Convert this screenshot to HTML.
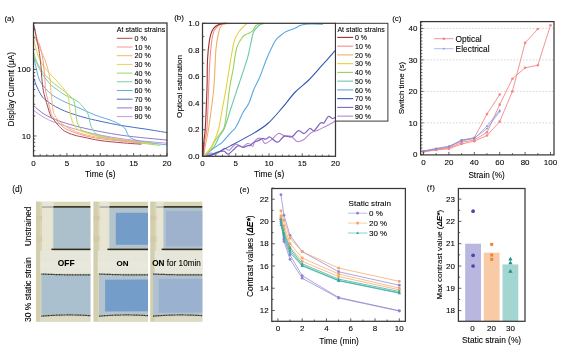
<!DOCTYPE html>
<html><head><meta charset="utf-8"><style>
html,body{margin:0;padding:0;background:#fff;}
svg{display:block;filter:blur(0.3px);font-family:'Liberation Sans', sans-serif;}
text{stroke:#000;stroke-width:0.08px;}
</style></head><body>
<svg width="575" height="353" viewBox="0 0 575 353">
<rect width="575" height="353" fill="#fff"/>
<text x="9.3" y="21.1" font-size="8.0" text-anchor="middle" font-weight="normal" fill="#000" >(a)</text>
<text x="0" y="0" font-size="8.2" text-anchor="middle" fill="#000" transform="translate(14.3,89.3) rotate(-90)">Display Current (μA)</text>
<text x="100.25" y="177.2" font-size="8.4" text-anchor="middle" font-weight="normal" fill="#000" >Time (s)</text>
<g fill="none" stroke-width="1.0" stroke-linejoin="round" stroke-linecap="round">
<path d="M34,110.6 C35.67,111.73 40.45,115.42 44,117.4 C47.55,119.38 48.63,120.15 55.3,122.5 C61.97,124.85 72.88,128.78 84,131.5 C95.12,134.22 108.17,136.85 122,138.8 C135.83,140.75 159.5,142.47 167,143.2" stroke="#c49ad8"/>
<path d="M34,106 C35.67,107.33 39.88,111.53 44,114 C48.12,116.47 52.03,118.45 58.7,120.8 C65.37,123.15 73.45,125.68 84,128.1 C94.55,130.52 108.17,133.3 122,135.3 C135.83,137.3 159.5,139.3 167,140.1" stroke="#8a7cc8"/>
<path d="M34,79 C34.5,80.33 35.72,84.17 37,87 C38.28,89.83 40.27,93.83 41.7,96 C43.13,98.17 43.88,98.58 45.6,100 C47.32,101.42 49.63,103.03 52,104.5 C54.37,105.97 56.8,107.38 59.8,108.8 C62.8,110.22 65.97,111.57 70,113 C74.03,114.43 79,116.03 84,117.4 C89,118.77 93.67,119.83 100,121.2 C106.33,122.57 114.5,124.3 122,125.6 C129.5,126.9 137.5,127.83 145,129 C152.5,130.17 163.33,132 167,132.6" stroke="#4a6cc0"/>
<path d="M34,58 C34.43,60 35.7,66.33 36.6,70 C37.5,73.67 38,77 39.4,80 C40.8,83 42.73,85.42 45,88 C47.27,90.58 49.67,93.17 53,95.5 C56.33,97.83 61,100.08 65,102 C69,103.92 72,104.83 77,107 C82,109.17 89.5,112.83 95,115 C100.5,117.17 106,118.5 110,120 C114,121.5 116.92,122.92 119,124 C121.08,125.08 121.43,125.67 122.5,126.5 C123.57,127.33 124.45,127.55 125.4,129 C126.35,130.45 126.88,133.5 128.2,135.2 C129.52,136.9 130.55,138.07 133.3,139.2 C136.05,140.33 139.08,141.05 144.7,142 C150.32,142.95 163.28,144.42 167,144.9" stroke="#62ace4"/>
<path d="M34,57 C34.67,58.5 36.63,63.2 38,66 C39.37,68.8 40.75,71.47 42.2,73.8 C43.65,76.13 45.23,78.13 46.7,80 C48.17,81.87 49.15,83.33 51,85 C52.85,86.67 55.47,88.33 57.8,90 C60.13,91.67 61.8,93.17 65,95 C68.2,96.83 73.83,98.83 77,101 C80.17,103.17 82.25,106 84,108 C85.75,110 86.67,111.5 87.5,113 C88.33,114.5 88.58,115.35 89,117 C89.42,118.65 89.35,120.75 90,122.9 C90.65,125.05 91.58,127.9 92.9,129.9 C94.22,131.9 95.05,133.58 97.9,134.9 C100.75,136.22 105.98,136.98 110,137.8 C114.02,138.62 116.17,139.02 122,139.8 C127.83,140.58 139.17,141.83 145,142.5 C150.83,143.17 155,143.58 157,143.8" stroke="#7ccea8"/>
<path d="M34,53 C34.33,54.17 34.67,57 36,60 C37.33,63 39.65,67.67 42,71 C44.35,74.33 47.77,77.67 50.1,80 C52.43,82.33 53.9,83.33 56,85 C58.1,86.67 60.37,88.17 62.7,90 C65.03,91.83 68.18,94.33 70,96 C71.82,97.67 72.77,98.33 73.6,100 C74.43,101.67 74.63,104 75,106 C75.37,108 75.48,109.45 75.8,112 C76.12,114.55 76.37,118.97 76.9,121.3 C77.43,123.63 78.25,124.58 79,126 C79.75,127.42 80.23,128.8 81.4,129.8 C82.57,130.8 82.9,130.87 86,132 C89.1,133.13 94,135.18 100,136.6 C106,138.02 114.5,139.33 122,140.5 C129.5,141.67 138.67,142.78 145,143.6 C151.33,144.42 157.5,145.1 160,145.4" stroke="#9cd470"/>
<path d="M34,40.3 C34.23,41.25 34.7,43.38 35.4,46 C36.1,48.62 37.45,53.72 38.2,56 C38.95,58.28 38.93,57.87 39.9,59.7 C40.87,61.53 42.35,64.68 44,67 C45.65,69.32 47.8,71.43 49.8,73.6 C51.8,75.77 53.52,77.27 56,80 C58.48,82.73 62.78,87.5 64.7,90 C66.62,92.5 66.82,93.33 67.5,95 C68.18,96.67 68.47,98.17 68.8,100 C69.13,101.83 69.25,103.83 69.5,106 C69.75,108.17 69.83,110.45 70.3,113 C70.77,115.55 71.2,118.68 72.3,121.3 C73.4,123.92 74.95,126.9 76.9,128.7 C78.85,130.5 80.15,130.8 84,132.1 C87.85,133.4 93.67,135.18 100,136.5 C106.33,137.82 114.5,138.95 122,140 C129.5,141.05 140,142.23 145,142.8 C150,143.37 150.83,143.3 152,143.4" stroke="#e4d450"/>
<path d="M34,36 C34.67,37.33 36.75,41.33 38,44 C39.25,46.67 40.35,49.38 41.5,52 C42.65,54.62 43.9,57.03 44.9,59.7 C45.9,62.37 46.68,65.03 47.5,68 C48.32,70.97 49.25,73.83 49.8,77.5 C50.35,81.17 50.52,86.92 50.8,90 C51.08,93.08 51.13,92.67 51.5,96 C51.87,99.33 52.37,106.67 53,110 C53.63,113.33 54.13,114 55.3,116 C56.47,118 57.55,119.83 60,122 C62.45,124.17 66,126.95 70,129 C74,131.05 79,132.87 84,134.3 C89,135.73 93.67,136.6 100,137.6 C106.33,138.6 115.17,139.57 122,140.3 C128.83,141.03 137.83,141.72 141,142" stroke="#f0b870"/>
<path d="M34,26 C34.57,28.33 36.42,36.7 37.4,40 C38.38,43.3 38.98,42.52 39.9,45.8 C40.82,49.08 42.08,54.33 42.9,59.7 C43.72,65.07 44.37,72.95 44.8,78 C45.23,83.05 45.17,87 45.5,90 C45.83,93 46.02,92.67 46.8,96 C47.58,99.33 49.27,106.67 50.2,110 C51.13,113.33 51.17,114.12 52.4,116 C53.63,117.88 55.33,119.13 57.6,121.3 C59.87,123.47 61.6,126.63 66,129 C70.4,131.37 78.33,133.9 84,135.5 C89.67,137.1 93.67,137.65 100,138.6 C106.33,139.55 115.17,140.5 122,141.2 C128.83,141.9 137.83,142.53 141,142.8" stroke="#f49a9a"/>
<path d="M34,25.2 C34.47,27.67 35.98,35.9 36.8,40 C37.62,44.1 38.22,45.53 38.9,49.8 C39.58,54.07 40.42,60.9 40.9,65.6 C41.38,70.3 41.42,73.93 41.8,78 C42.18,82.07 42.73,87 43.2,90 C43.67,93 43.93,93.5 44.6,96 C45.27,98.5 46.18,101.67 47.2,105 C48.22,108.33 49.53,113.47 50.7,116 C51.87,118.53 52.98,118.7 54.2,120.2 C55.42,121.7 56.3,123.2 58,125 C59.7,126.8 61.73,129.33 64.4,131 C67.07,132.67 70.73,133.95 74,135 C77.27,136.05 79.67,136.38 84,137.3 C88.33,138.22 93.67,139.58 100,140.5 C106.33,141.42 115.17,142.18 122,142.8 C128.83,143.42 137.83,143.97 141,144.2" stroke="#a84a4a"/>
</g>
<rect x="33.5" y="23" width="133.5" height="133" fill="none" stroke="#383838" stroke-width="1.25"/>
<path d="M33.5,156 V153 M40.17,156 V154.2 M46.85,156 V154.2 M53.52,156 V154.2 M60.2,156 V154.2 M66.88,156 V153 M73.55,156 V154.2 M80.22,156 V154.2 M86.9,156 V154.2 M93.58,156 V154.2 M100.25,156 V153 M106.92,156 V154.2 M113.6,156 V154.2 M120.28,156 V154.2 M126.95,156 V154.2 M133.62,156 V153 M140.3,156 V154.2 M146.97,156 V154.2 M153.65,156 V154.2 M160.32,156 V154.2 M167,156 V153 M33.5,156 H35.3 M33.5,150.73 H35.3 M33.5,146.28 H35.3 M33.5,142.43 H35.3 M33.5,139.02 H35.3 M33.5,135.98 H36.5 M33.5,115.96 H35.3 M33.5,104.25 H35.3 M33.5,95.94 H35.3 M33.5,89.5 H35.3 M33.5,84.23 H35.3 M33.5,79.78 H35.3 M33.5,75.93 H35.3 M33.5,72.52 H35.3 M33.5,69.48 H36.5 M33.5,49.46 H35.3 M33.5,37.75 H35.3 M33.5,29.44 H35.3 M33.5,23 H35.3" stroke="#383838" stroke-width="0.8" fill="none"/>
<text x="33.5" y="165.8" font-size="8.0" text-anchor="middle" font-weight="normal" fill="#000" >0</text>
<text x="66.88" y="165.8" font-size="8.0" text-anchor="middle" font-weight="normal" fill="#000" >5</text>
<text x="100.25" y="165.8" font-size="8.0" text-anchor="middle" font-weight="normal" fill="#000" >10</text>
<text x="133.62" y="165.8" font-size="8.0" text-anchor="middle" font-weight="normal" fill="#000" >15</text>
<text x="167" y="165.8" font-size="8.0" text-anchor="middle" font-weight="normal" fill="#000" >20</text>
<text x="30.6" y="72.18" font-size="8.0" text-anchor="end" font-weight="normal" fill="#000" >100</text>
<text x="30.6" y="138.68" font-size="8.0" text-anchor="end" font-weight="normal" fill="#000" >10</text>
<text x="116.8" y="32.4" font-size="7.15" text-anchor="start" font-weight="normal" fill="#000" >At static strains</text>
<path d="M116.8,38.3 H132.5" stroke="#a84a4a" stroke-width="1"/>
<text x="134.6" y="40.9" font-size="7.15" text-anchor="start" font-weight="normal" fill="#000" >0 %</text>
<path d="M116.8,47 H132.5" stroke="#f49a9a" stroke-width="1"/>
<text x="134.6" y="49.6" font-size="7.15" text-anchor="start" font-weight="normal" fill="#000" >10 %</text>
<path d="M116.8,55.7 H132.5" stroke="#f0b870" stroke-width="1"/>
<text x="134.6" y="58.3" font-size="7.15" text-anchor="start" font-weight="normal" fill="#000" >20 %</text>
<path d="M116.8,64.4 H132.5" stroke="#e4d450" stroke-width="1"/>
<text x="134.6" y="67" font-size="7.15" text-anchor="start" font-weight="normal" fill="#000" >30 %</text>
<path d="M116.8,73.1 H132.5" stroke="#9cd470" stroke-width="1"/>
<text x="134.6" y="75.7" font-size="7.15" text-anchor="start" font-weight="normal" fill="#000" >40 %</text>
<path d="M116.8,81.8 H132.5" stroke="#7ccea8" stroke-width="1"/>
<text x="134.6" y="84.4" font-size="7.15" text-anchor="start" font-weight="normal" fill="#000" >50 %</text>
<path d="M116.8,90.5 H132.5" stroke="#62ace4" stroke-width="1"/>
<text x="134.6" y="93.1" font-size="7.15" text-anchor="start" font-weight="normal" fill="#000" >60 %</text>
<path d="M116.8,99.2 H132.5" stroke="#4a6cc0" stroke-width="1"/>
<text x="134.6" y="101.8" font-size="7.15" text-anchor="start" font-weight="normal" fill="#000" >70 %</text>
<path d="M116.8,107.9 H132.5" stroke="#8a7cc8" stroke-width="1"/>
<text x="134.6" y="110.5" font-size="7.15" text-anchor="start" font-weight="normal" fill="#000" >80 %</text>
<path d="M116.8,116.6 H132.5" stroke="#c49ad8" stroke-width="1"/>
<text x="134.6" y="119.2" font-size="7.15" text-anchor="start" font-weight="normal" fill="#000" >90 %</text>
<text x="179.1" y="19.9" font-size="8.0" text-anchor="middle" font-weight="normal" fill="#000" >(b)</text>
<text x="0" y="0" font-size="8.1" text-anchor="middle" fill="#000" transform="translate(182.2,86.4) rotate(-90)">Optical saturation</text>
<text x="269.1" y="177" font-size="8.4" text-anchor="middle" font-weight="normal" fill="#000" >Time (s)</text>
<g fill="none" stroke-width="1.1" stroke-linejoin="round" stroke-linecap="round">
<path d="M205,156 C205.92,155.5 208.65,153.33 210.5,153 C212.35,152.67 213.77,154.77 216.1,154 C218.43,153.23 222.32,149.03 224.5,148.4 C226.68,147.77 227.33,150.9 229.2,150.2 C231.07,149.5 233.52,144.73 235.7,144.2 C237.88,143.67 240.43,147.08 242.3,147 C244.17,146.92 245.62,144.18 246.9,143.7 C248.18,143.22 249.02,143.68 250,144.1 C250.98,144.52 251.85,146.9 252.8,146.2 C253.75,145.5 254.28,141.18 255.7,139.9 C257.12,138.62 259.77,137.92 261.3,138.5 C262.83,139.08 263.25,143.17 264.9,143.4 C266.55,143.63 268.97,141.55 271.2,139.9 C273.43,138.25 276.17,134.22 278.3,133.5 C280.43,132.78 281.88,135.13 284,135.6 C286.12,136.07 288.88,135.35 291,136.3 C293.12,137.25 295.22,140.47 296.7,141.3 C298.18,142.13 298.65,141.65 299.9,141.3 C301.15,140.95 302.32,140.62 304.2,139.2 C306.08,137.78 308.85,134.33 311.2,132.8 C313.55,131.27 315.93,131.07 318.3,130 C320.67,128.93 323.27,127.47 325.4,126.4 C327.53,125.33 329.42,124.55 331.1,123.6 C332.78,122.65 334.77,121.18 335.5,120.7" stroke="#b884d0"/>
<path d="M205,156 C205.6,155.92 206.92,156 208.6,155.5 C210.28,155 212.6,153.72 215.1,153 C217.6,152.28 221.42,151.03 223.6,151.2 C225.78,151.37 226.33,154.47 228.2,154 C230.07,153.53 233.08,149.8 234.8,148.4 C236.52,147 237.1,145.77 238.5,145.6 C239.9,145.43 241.63,147.4 243.2,147.4 C244.77,147.4 246.77,145.92 247.9,145.6 C249.03,145.28 248.95,146.1 250,145.5 C251.05,144.9 252.78,142.82 254.2,142 C255.62,141.18 257.08,141.18 258.5,140.6 C259.92,140.02 261.52,138.73 262.7,138.5 C263.88,138.27 264.42,139.45 265.6,139.2 C266.78,138.95 268.5,136.88 269.8,137 C271.1,137.12 271.98,139.07 273.4,139.9 C274.82,140.73 276.53,142.6 278.3,142 C280.07,141.4 281.88,137.13 284,136.3 C286.12,135.47 289.42,137.12 291,137 C292.58,136.88 292.25,136.65 293.5,135.6 C294.75,134.55 296.72,131.05 298.5,130.7 C300.28,130.35 302.32,133.87 304.2,133.5 C306.08,133.13 308.15,128.97 309.8,128.5 C311.45,128.03 312.32,131.63 314.1,130.7 C315.88,129.77 318.85,124.2 320.5,122.9 C322.15,121.6 322.72,123.97 324,122.9 C325.28,121.83 326.78,117.22 328.2,116.5 C329.62,115.78 331.28,118.48 332.5,118.6 C333.72,118.72 335,117.43 335.5,117.2" stroke="#7c68c0" stroke-width="1.25"/>
<path d="M205,156 C206.22,155.82 207.97,156.63 212.3,154.9 C216.63,153.17 223.88,149.35 231,145.6 C238.12,141.85 248.77,136.17 255,132.4 C261.23,128.63 263.92,127.03 268.4,123 C272.88,118.97 277.42,113.37 281.9,108.2 C286.38,103.03 290.82,96.7 295.3,92 C299.78,87.3 304.32,84.47 308.8,80 C313.28,75.53 317.78,70.13 322.2,65.2 C326.62,60.27 333.12,52.87 335.3,50.4" stroke="#3058b0"/>
<path d="M205,155 C206.22,154.05 209.98,151.03 212.3,149.3 C214.62,147.57 217.33,145.68 218.9,144.6 C220.47,143.52 219.83,144.67 221.7,142.8 C223.57,140.93 227.83,135.87 230.1,133.4 C232.37,130.93 233.82,130.07 235.3,128 C236.78,125.93 237.72,123.6 239,121 C240.28,118.4 241.33,115.4 243,112.4 C244.67,109.4 247.23,106.73 249,103 C250.77,99.27 251.77,94.42 253.6,90 C255.43,85.58 257.77,81.83 260,76.5 C262.23,71.17 264.45,63.95 267,58 C269.55,52.05 273.13,44.47 275.3,40.8 C277.47,37.13 278.3,37.48 280,36 C281.7,34.52 283.83,32.9 285.5,31.9 C287.17,30.9 288.3,30.65 290,30 C291.7,29.35 294.03,28.75 295.7,28 C297.37,27.25 298.3,26.13 300,25.5 C301.7,24.87 303.73,24.45 305.9,24.2 C308.07,23.95 310.23,24 313,24 C315.77,24 320.92,24.17 322.5,24.2" stroke="#58a8e0"/>
<path d="M204.5,156 C205.08,155.33 206.43,153.5 208,152 C209.57,150.5 212.07,149.5 213.9,147 C215.73,144.5 217.23,140.17 219,137 C220.77,133.83 222.5,132.83 224.5,128 C226.5,123.17 228.82,114.67 231,108 C233.18,101.33 235.77,93.5 237.6,88 C239.43,82.5 240.33,80.05 242,75 C243.67,69.95 246.18,62.7 247.6,57.7 C249.02,52.7 249.5,49.3 250.5,45 C251.5,40.7 252.1,35.23 253.6,31.9 C255.1,28.57 257.77,26.4 259.5,25 C261.23,23.6 263.25,23.75 264,23.5" stroke="#6cc8a8"/>
<path d="M205,155.5 C206.07,154.15 209.72,149.92 211.4,147.4 C213.08,144.88 213.38,143.05 215.1,140.4 C216.82,137.75 220.22,133.57 221.7,131.5 C223.18,129.43 223.25,130.58 224,128 C224.75,125.42 225.27,122.67 226.2,116 C227.13,109.33 228.47,95.67 229.6,88 C230.73,80.33 231.82,76.7 233,70 C234.18,63.3 235.08,53.32 236.7,47.8 C238.32,42.28 240.88,39.22 242.7,36.9 C244.52,34.58 245.95,34.9 247.6,33.9 C249.25,32.9 251.27,32.22 252.6,30.9 C253.93,29.58 254.37,27.23 255.6,26 C256.83,24.77 258.77,23.95 260,23.5 C261.23,23.05 262.5,23.33 263,23.3" stroke="#98d058"/>
<path d="M205,155.5 C205.92,154.32 208.82,151.15 210.5,148.4 C212.18,145.65 213.7,142.4 215.1,139 C216.5,135.6 217.67,133.17 218.9,128 C220.13,122.83 221.28,114.67 222.5,108 C223.72,101.33 225.12,94.33 226.2,88 C227.28,81.67 228.03,76 229,70 C229.97,64 231.05,57.03 232,52 C232.95,46.97 233.45,43.3 234.7,39.8 C235.95,36.3 237.52,33.72 239.5,31 C241.48,28.28 245.42,24.75 246.6,23.5" stroke="#e6d040"/>
<path d="M203.5,156 C203.92,153.67 205.13,146.67 206,142 C206.87,137.33 207.4,137 208.7,128 C210,119 212.6,101.03 213.8,88 C215,74.97 215.07,59.15 215.9,49.8 C216.73,40.45 217.82,36.03 218.8,31.9 C219.78,27.77 220.6,26.35 221.8,25 C223,23.65 224.02,24.05 226,23.8 C227.98,23.55 232.42,23.55 233.7,23.5" stroke="#f0b060"/>
<path d="M203.5,156 C203.75,153.33 204.42,144.67 205,140 C205.58,135.33 206.38,136.67 207,128 C207.62,119.33 208.22,99.33 208.7,88 C209.18,76.67 209.37,68 209.9,60 C210.43,52 211.22,44.83 211.9,40 C212.58,35.17 212.98,33.33 214,31 C215.02,28.67 216.67,27.17 218,26 C219.33,24.83 220.33,24.43 222,24 C223.67,23.57 227,23.5 228,23.4" stroke="#f48c8c"/>
<path d="M203,156 C203.17,153.33 203.62,144.67 204,140 C204.38,135.33 204.8,136.67 205.3,128 C205.8,119.33 206.63,99.33 207,88 C207.37,76.67 207.08,68 207.5,60 C207.92,52 208.75,44.83 209.5,40 C210.25,35.17 210.92,33.33 212,31 C213.08,28.67 214.37,27.23 216,26 C217.63,24.77 220.13,24.05 221.8,23.6 C223.47,23.15 225.3,23.35 226,23.3" stroke="#9c2e2e"/>
</g>
<rect x="202.5" y="23.3" width="133" height="133" fill="none" stroke="#383838" stroke-width="1.25"/>
<path d="M202.5,156.3 V153.3 M209.15,156.3 V154.5 M215.8,156.3 V154.5 M222.45,156.3 V154.5 M229.1,156.3 V154.5 M235.75,156.3 V153.3 M242.4,156.3 V154.5 M249.05,156.3 V154.5 M255.7,156.3 V154.5 M262.35,156.3 V154.5 M269,156.3 V153.3 M275.65,156.3 V154.5 M282.3,156.3 V154.5 M288.95,156.3 V154.5 M295.6,156.3 V154.5 M302.25,156.3 V153.3 M308.9,156.3 V154.5 M315.55,156.3 V154.5 M322.2,156.3 V154.5 M328.85,156.3 V154.5 M335.5,156.3 V153.3 M202.5,156.3 H205.5 M202.5,143 H204.3 M202.5,129.7 H205.5 M202.5,116.4 H204.3 M202.5,103.1 H205.5 M202.5,89.8 H204.3 M202.5,76.5 H205.5 M202.5,63.2 H204.3 M202.5,49.9 H205.5 M202.5,36.6 H204.3 M202.5,23.3 H205.5" stroke="#383838" stroke-width="0.8" fill="none"/>
<text x="202.5" y="165.8" font-size="8.0" text-anchor="middle" font-weight="normal" fill="#000" >0</text>
<text x="235.75" y="165.8" font-size="8.0" text-anchor="middle" font-weight="normal" fill="#000" >5</text>
<text x="269" y="165.8" font-size="8.0" text-anchor="middle" font-weight="normal" fill="#000" >10</text>
<text x="302.25" y="165.8" font-size="8.0" text-anchor="middle" font-weight="normal" fill="#000" >15</text>
<text x="335.5" y="165.8" font-size="8.0" text-anchor="middle" font-weight="normal" fill="#000" >20</text>
<text x="199.4" y="159" font-size="8.0" text-anchor="end" font-weight="normal" fill="#000" >0.0</text>
<text x="199.4" y="132.4" font-size="8.0" text-anchor="end" font-weight="normal" fill="#000" >0.2</text>
<text x="199.4" y="105.8" font-size="8.0" text-anchor="end" font-weight="normal" fill="#000" >0.4</text>
<text x="199.4" y="79.2" font-size="8.0" text-anchor="end" font-weight="normal" fill="#000" >0.6</text>
<text x="199.4" y="52.6" font-size="8.0" text-anchor="end" font-weight="normal" fill="#000" >0.8</text>
<text x="199.4" y="26" font-size="8.0" text-anchor="end" font-weight="normal" fill="#000" >1.0</text>
<rect x="335.5" y="23.3" width="52.4" height="97.8" fill="#fff" stroke="#383838" stroke-width="1"/>
<text x="337.4" y="31.5" font-size="7.0" text-anchor="start" font-weight="normal" fill="#000" >At static strains</text>
<path d="M337.2,37.4 H353.2" stroke="#9c2e2e" stroke-width="1.1"/>
<text x="355" y="40" font-size="7.0" text-anchor="start" font-weight="normal" fill="#000" >0 %</text>
<path d="M337.2,46.15 H353.2" stroke="#f48c8c" stroke-width="1.1"/>
<text x="355" y="48.75" font-size="7.0" text-anchor="start" font-weight="normal" fill="#000" >10 %</text>
<path d="M337.2,54.9 H353.2" stroke="#f0b060" stroke-width="1.1"/>
<text x="355" y="57.5" font-size="7.0" text-anchor="start" font-weight="normal" fill="#000" >20 %</text>
<path d="M337.2,63.65 H353.2" stroke="#e6d040" stroke-width="1.1"/>
<text x="355" y="66.25" font-size="7.0" text-anchor="start" font-weight="normal" fill="#000" >30 %</text>
<path d="M337.2,72.4 H353.2" stroke="#98d058" stroke-width="1.1"/>
<text x="355" y="75" font-size="7.0" text-anchor="start" font-weight="normal" fill="#000" >40 %</text>
<path d="M337.2,81.15 H353.2" stroke="#6cc8a8" stroke-width="1.1"/>
<text x="355" y="83.75" font-size="7.0" text-anchor="start" font-weight="normal" fill="#000" >50 %</text>
<path d="M337.2,89.9 H353.2" stroke="#58a8e0" stroke-width="1.1"/>
<text x="355" y="92.5" font-size="7.0" text-anchor="start" font-weight="normal" fill="#000" >60 %</text>
<path d="M337.2,98.65 H353.2" stroke="#3058b0" stroke-width="1.1"/>
<text x="355" y="101.25" font-size="7.0" text-anchor="start" font-weight="normal" fill="#000" >70 %</text>
<path d="M337.2,107.4 H353.2" stroke="#7c68c0" stroke-width="1.1"/>
<text x="355" y="110" font-size="7.0" text-anchor="start" font-weight="normal" fill="#000" >80 %</text>
<path d="M337.2,116.15 H353.2" stroke="#b884d0" stroke-width="1.1"/>
<text x="355" y="118.75" font-size="7.0" text-anchor="start" font-weight="normal" fill="#000" >90 %</text>
<text x="396.8" y="20.6" font-size="8.0" text-anchor="middle" font-weight="normal" fill="#000" >(c)</text>
<text x="0" y="0" font-size="8" text-anchor="middle" fill="#000" transform="translate(403.5,88) rotate(-90)">Switch time (s)</text>
<text x="486.6" y="177.8" font-size="8.2" text-anchor="middle" font-weight="normal" fill="#000" >Strain (%)</text>
<path d="M420.6,122.9 H554 M420.6,91.4 H554 M420.6,59.9 H554 M420.6,28.4 H554" stroke="#c4c4c4" stroke-width="0.7" stroke-dasharray="1.6,1.6" fill="none"/>
<path d="M423.5,151.25 L436.2,149.05 L448.9,147.47 L461.6,140.22 L474.3,137.71 L487,114.08 L499.7,94.55" stroke="#f48888" stroke-width="0.9" fill="none"/>
<circle cx="423.5" cy="151.25" r="1.3" fill="#f48888"/>
<circle cx="436.2" cy="149.05" r="1.3" fill="#f48888"/>
<circle cx="448.9" cy="147.47" r="1.3" fill="#f48888"/>
<circle cx="461.6" cy="140.22" r="1.3" fill="#f48888"/>
<circle cx="474.3" cy="137.71" r="1.3" fill="#f48888"/>
<circle cx="487" cy="114.08" r="1.3" fill="#f48888"/>
<circle cx="499.7" cy="94.55" r="1.3" fill="#f48888"/>
<path d="M423.5,151.56 L436.2,149.68 L448.9,148.1 L461.6,142.43 L474.3,139.91 L487,132.35 L499.7,104.63 L512.4,78.8 L525.1,67.78 L537.8,65.26 L550.5,25.25" stroke="#f48888" stroke-width="0.9" fill="none"/>
<circle cx="423.5" cy="151.56" r="1.3" fill="#f48888"/>
<circle cx="436.2" cy="149.68" r="1.3" fill="#f48888"/>
<circle cx="448.9" cy="148.1" r="1.3" fill="#f48888"/>
<circle cx="461.6" cy="142.43" r="1.3" fill="#f48888"/>
<circle cx="474.3" cy="139.91" r="1.3" fill="#f48888"/>
<circle cx="487" cy="132.35" r="1.3" fill="#f48888"/>
<circle cx="499.7" cy="104.63" r="1.3" fill="#f48888"/>
<circle cx="512.4" cy="78.8" r="1.3" fill="#f48888"/>
<circle cx="525.1" cy="67.78" r="1.3" fill="#f48888"/>
<circle cx="537.8" cy="65.26" r="1.3" fill="#f48888"/>
<circle cx="550.5" cy="25.25" r="1.3" fill="#f48888"/>
<path d="M423.5,151.88 L436.2,149.99 L448.9,148.73 L461.6,144 L474.3,141.17 L487,135.5 L499.7,121.64 L512.4,91.4 L525.1,42.89 L537.8,29.03" stroke="#f48888" stroke-width="0.9" fill="none"/>
<circle cx="423.5" cy="151.88" r="1.3" fill="#f48888"/>
<circle cx="436.2" cy="149.99" r="1.3" fill="#f48888"/>
<circle cx="448.9" cy="148.73" r="1.3" fill="#f48888"/>
<circle cx="461.6" cy="144" r="1.3" fill="#f48888"/>
<circle cx="474.3" cy="141.17" r="1.3" fill="#f48888"/>
<circle cx="487" cy="135.5" r="1.3" fill="#f48888"/>
<circle cx="499.7" cy="121.64" r="1.3" fill="#f48888"/>
<circle cx="512.4" cy="91.4" r="1.3" fill="#f48888"/>
<circle cx="525.1" cy="42.89" r="1.3" fill="#f48888"/>
<circle cx="537.8" cy="29.03" r="1.3" fill="#f48888"/>
<path d="M423.5,151.25 L436.2,148.73 L448.9,146.53 L461.6,139.91 L474.3,138.65 L487,126.05 L499.7,110.3" stroke="#7d90dc" stroke-width="0.8" fill="none" opacity="0.85"/>
<circle cx="423.5" cy="151.25" r="0.9" fill="#7d90dc"/>
<circle cx="436.2" cy="148.73" r="0.9" fill="#7d90dc"/>
<circle cx="448.9" cy="146.53" r="0.9" fill="#7d90dc"/>
<circle cx="461.6" cy="139.91" r="0.9" fill="#7d90dc"/>
<circle cx="474.3" cy="138.65" r="0.9" fill="#7d90dc"/>
<circle cx="487" cy="126.05" r="0.9" fill="#7d90dc"/>
<circle cx="499.7" cy="110.3" r="0.9" fill="#7d90dc"/>
<path d="M423.5,150.94 L436.2,148.42 L448.9,146.21 L461.6,141.17 L474.3,138.02 L487,128.57 L499.7,111.56" stroke="#7d90dc" stroke-width="0.8" fill="none" opacity="0.85"/>
<circle cx="423.5" cy="150.94" r="0.9" fill="#7d90dc"/>
<circle cx="436.2" cy="148.42" r="0.9" fill="#7d90dc"/>
<circle cx="448.9" cy="146.21" r="0.9" fill="#7d90dc"/>
<circle cx="461.6" cy="141.17" r="0.9" fill="#7d90dc"/>
<circle cx="474.3" cy="138.02" r="0.9" fill="#7d90dc"/>
<circle cx="487" cy="128.57" r="0.9" fill="#7d90dc"/>
<circle cx="499.7" cy="111.56" r="0.9" fill="#7d90dc"/>
<rect x="420.6" y="21.6" width="133.4" height="133.3" fill="none" stroke="#383838" stroke-width="1.25"/>
<path d="M423.5,154.9 V151.9 M436.2,154.9 V153.1 M448.9,154.9 V151.9 M461.6,154.9 V153.1 M474.3,154.9 V151.9 M487,154.9 V153.1 M499.7,154.9 V151.9 M512.4,154.9 V153.1 M525.1,154.9 V151.9 M537.8,154.9 V153.1 M550.5,154.9 V151.9 M420.6,154.4 H423.6 M420.6,151.25 H422.4 M420.6,148.1 H422.4 M420.6,144.95 H422.4 M420.6,141.8 H422.4 M420.6,138.65 H422.4 M420.6,135.5 H422.4 M420.6,132.35 H422.4 M420.6,129.2 H422.4 M420.6,126.05 H422.4 M420.6,122.9 H423.6 M420.6,119.75 H422.4 M420.6,116.6 H422.4 M420.6,113.45 H422.4 M420.6,110.3 H422.4 M420.6,107.15 H422.4 M420.6,104 H422.4 M420.6,100.85 H422.4 M420.6,97.7 H422.4 M420.6,94.55 H422.4 M420.6,91.4 H423.6 M420.6,88.25 H422.4 M420.6,85.1 H422.4 M420.6,81.95 H422.4 M420.6,78.8 H422.4 M420.6,75.65 H422.4 M420.6,72.5 H422.4 M420.6,69.35 H422.4 M420.6,66.2 H422.4 M420.6,63.05 H422.4 M420.6,59.9 H423.6 M420.6,56.75 H422.4 M420.6,53.6 H422.4 M420.6,50.45 H422.4 M420.6,47.3 H422.4 M420.6,44.15 H422.4 M420.6,41 H422.4 M420.6,37.85 H422.4 M420.6,34.7 H422.4 M420.6,31.55 H422.4 M420.6,28.4 H423.6 M420.6,25.25 H422.4 M420.6,22.1 H422.4" stroke="#383838" stroke-width="0.8" fill="none"/>
<text x="423.5" y="164.5" font-size="8.0" text-anchor="middle" font-weight="normal" fill="#000" >0</text>
<text x="448.9" y="164.5" font-size="8.0" text-anchor="middle" font-weight="normal" fill="#000" >20</text>
<text x="474.3" y="164.5" font-size="8.0" text-anchor="middle" font-weight="normal" fill="#000" >40</text>
<text x="499.7" y="164.5" font-size="8.0" text-anchor="middle" font-weight="normal" fill="#000" >60</text>
<text x="525.1" y="164.5" font-size="8.0" text-anchor="middle" font-weight="normal" fill="#000" >80</text>
<text x="550.5" y="164.5" font-size="8.0" text-anchor="middle" font-weight="normal" fill="#000" >100</text>
<text x="417.4" y="157.1" font-size="8.0" text-anchor="end" font-weight="normal" fill="#000" >0</text>
<text x="417.4" y="125.6" font-size="8.0" text-anchor="end" font-weight="normal" fill="#000" >10</text>
<text x="417.4" y="94.1" font-size="8.0" text-anchor="end" font-weight="normal" fill="#000" >20</text>
<text x="417.4" y="62.6" font-size="8.0" text-anchor="end" font-weight="normal" fill="#000" >30</text>
<text x="417.4" y="31.1" font-size="8.0" text-anchor="end" font-weight="normal" fill="#000" >40</text>
<path d="M434.1,38.7 H453.6" stroke="#f48888" stroke-width="0.9"/><circle cx="443.8" cy="38.7" r="1.3" fill="#f48888"/>
<path d="M434.1,48.7 H453.6" stroke="#a4b4e6" stroke-width="0.9"/><circle cx="443.8" cy="48.7" r="0.9" fill="#8a9ce0"/>
<text x="455.6" y="41.6" font-size="8.4" text-anchor="start" font-weight="normal" fill="#000" >Optical</text>
<text x="455.6" y="51.6" font-size="8.4" text-anchor="start" font-weight="normal" fill="#000" >Electrical</text>
<text x="17.3" y="192" font-size="8.4" text-anchor="middle" font-weight="normal" fill="#000" >(d)</text>
<text x="0" y="0" font-size="8.15" text-anchor="middle" fill="#000" transform="translate(30.7,226.4) rotate(-90)">Unstrained</text>
<text x="0" y="0" font-size="8.5" text-anchor="middle" fill="#000" transform="translate(31.1,289.6) rotate(-90)">30 % static strain</text>
<rect x="36" y="201.7" width="54.4" height="119.9" fill="#d9d7b8"/>
<rect x="36" y="201.7" width="4.2" height="119.9" fill="#d2ceae"/>
<rect x="52.4" y="207.8" width="38" height="41" fill="#acc0cc"/>
<rect x="36" y="215.5" width="8" height="5" fill="#d4c8a2" opacity="0.8"/>
<rect x="36" y="236.5" width="8" height="5" fill="#d4c8a2" opacity="0.8"/>
<path d="M42,201.7 H53.4 V255 L42,257 Z" fill="#eceadc" opacity="0.75"/>
<rect x="42" y="206.3" width="11.4" height="1.5" fill="#8f9698" opacity="0.7"/>
<rect x="53.4" y="206.1" width="37" height="1.6" fill="#2b2823"/>
<rect x="51.4" y="248.6" width="39" height="1.5" fill="#2b2823"/>
<rect x="40.2" y="250.9" width="50.2" height="22.5" fill="#e6e6da"/>
<rect x="40.2" y="262" width="50.2" height="6" fill="#e8e8dc" opacity="0.7"/>
<path d="M41.4,274 Q65.9,275.2 90.4,274.8 L90.4,315.6 Q65.9,313.8 41.4,316 Z" fill="#abc0ce"/>
<path d="M41.4,274 Q65.9,275.2 90.4,274.8" stroke="#2e2a24" stroke-width="1.2" fill="none" stroke-dasharray="1.2,0.4"/>
<path d="M41.4,316.2 Q65.9,314 90.4,315.7" stroke="#2e2a24" stroke-width="1.2" fill="none" stroke-dasharray="1.2,0.4"/>
<rect x="40.2" y="317" width="50.2" height="4.6" fill="#dddac6"/>
<rect x="93.6" y="201.7" width="54.4" height="119.9" fill="#d9d7b8"/>
<rect x="93.6" y="201.7" width="4.2" height="119.9" fill="#d2ceae"/>
<rect x="108.4" y="207.8" width="39.6" height="41" fill="#b3c4cc"/>
<rect x="115.8" y="212.8" width="32.2" height="32" fill="#749cc8"/>
<rect x="93.6" y="215.5" width="8" height="5" fill="#d4c8a2" opacity="0.8"/>
<rect x="93.6" y="236.5" width="8" height="5" fill="#d4c8a2" opacity="0.8"/>
<path d="M99.6,201.7 H109.4 V255 L99.6,257 Z" fill="#eceadc" opacity="0.75"/>
<rect x="99.6" y="206.3" width="9.8" height="1.5" fill="#8f9698" opacity="0.7"/>
<rect x="109.4" y="206.1" width="38.6" height="1.6" fill="#2b2823"/>
<rect x="107.4" y="248.6" width="40.6" height="1.5" fill="#2b2823"/>
<rect x="97.8" y="250.9" width="50.2" height="22.5" fill="#e6e6da"/>
<rect x="97.8" y="262" width="50.2" height="6" fill="#e8e8dc" opacity="0.7"/>
<path d="M99,274 Q123.5,275.2 148,274.8 L148,315.6 Q123.5,313.8 99,316 Z" fill="#b2c4d0"/>
<path d="M105.1,279.8 L148,279.5 L148,311.2 L105.1,311.5 Z" fill="#759dca"/>
<path d="M99,274 Q123.5,275.2 148,274.8" stroke="#2e2a24" stroke-width="1.2" fill="none" stroke-dasharray="1.2,0.4"/>
<path d="M99,316.2 Q123.5,314 148,315.7" stroke="#2e2a24" stroke-width="1.2" fill="none" stroke-dasharray="1.2,0.4"/>
<rect x="97.8" y="317" width="50.2" height="4.6" fill="#dddac6"/>
<rect x="150.4" y="201.7" width="51.9" height="119.9" fill="#d9d7b8"/>
<rect x="150.4" y="201.7" width="4.2" height="119.9" fill="#d2ceae"/>
<rect x="162.6" y="207.8" width="39.7" height="41" fill="#b0c2cc"/>
<rect x="166" y="211" width="36.3" height="35.3" fill="#9eb2ce"/>
<rect x="150.4" y="215.5" width="8" height="5" fill="#d4c8a2" opacity="0.8"/>
<rect x="150.4" y="236.5" width="8" height="5" fill="#d4c8a2" opacity="0.8"/>
<path d="M156.4,201.7 H163.6 V255 L156.4,257 Z" fill="#eceadc" opacity="0.75"/>
<rect x="156.4" y="206.3" width="7.2" height="1.5" fill="#8f9698" opacity="0.7"/>
<rect x="163.6" y="206.1" width="38.7" height="1.6" fill="#2b2823"/>
<rect x="161.6" y="248.6" width="40.7" height="1.5" fill="#2b2823"/>
<rect x="154.6" y="250.9" width="47.7" height="22.5" fill="#e6e6da"/>
<rect x="154.6" y="262" width="47.7" height="6" fill="#e8e8dc" opacity="0.7"/>
<path d="M153,274 Q177.65,275.2 202.3,274.8 L202.3,315.6 Q177.65,313.8 153,316 Z" fill="#b0c2d0"/>
<path d="M158.7,278.9 L202.3,278.7 L202.3,312.5 L158.7,312.8 Z" fill="#9bb1d0"/>
<path d="M153,274 Q177.65,275.2 202.3,274.8" stroke="#2e2a24" stroke-width="1.2" fill="none" stroke-dasharray="1.2,0.4"/>
<path d="M153,316.2 Q177.65,314 202.3,315.7" stroke="#2e2a24" stroke-width="1.2" fill="none" stroke-dasharray="1.2,0.4"/>
<rect x="154.6" y="317" width="47.7" height="4.6" fill="#dddac6"/>
<text x="66.2" y="265.6" font-size="8.4" text-anchor="middle" font-weight="bold" fill="#000" >OFF</text>
<text x="122.6" y="265.7" font-size="8.0" text-anchor="middle" font-weight="bold" fill="#000" >ON</text>
<text x="152.2" y="266" font-size="8.2" fill="#000"><tspan font-weight="bold">ON</tspan> for 10min</text>
<text x="244.5" y="192.2" font-size="8.0" text-anchor="middle" font-weight="normal" fill="#000" >(e)</text>
<text x="0" y="0" font-size="8.5" text-anchor="middle" fill="#000" transform="translate(253,256.2) rotate(-90)">Contrast values (<tspan font-style="italic" font-weight="bold">ΔE*</tspan>)</text>
<text x="339" y="344" font-size="8.4" text-anchor="middle" font-weight="normal" fill="#000" >Time (min)</text>
<path d="M280.94,194.75 L283.97,215.23 L290.04,235.37 L302.18,251.62 L338.6,271.77 L399.3,285.23" stroke="#8c84d4" stroke-width="0.9" fill="none" opacity="0.8"/>
<circle cx="280.94" cy="194.75" r="1.4" fill="#8c84d4"/>
<circle cx="283.97" cy="215.23" r="1.4" fill="#8c84d4"/>
<circle cx="290.04" cy="235.37" r="1.4" fill="#8c84d4"/>
<circle cx="302.18" cy="251.62" r="1.4" fill="#8c84d4"/>
<circle cx="338.6" cy="271.77" r="1.4" fill="#8c84d4"/>
<circle cx="399.3" cy="285.23" r="1.4" fill="#8c84d4"/>
<path d="M280.94,219.23 L283.97,239.27 L290.04,255.07 L302.18,275.66 L338.6,297.48 L399.3,310.72" stroke="#8c84d4" stroke-width="0.9" fill="none" opacity="0.8"/>
<circle cx="280.94" cy="219.23" r="1.4" fill="#8c84d4"/>
<circle cx="283.97" cy="239.27" r="1.4" fill="#8c84d4"/>
<circle cx="290.04" cy="255.07" r="1.4" fill="#8c84d4"/>
<circle cx="302.18" cy="275.66" r="1.4" fill="#8c84d4"/>
<circle cx="338.6" cy="297.48" r="1.4" fill="#8c84d4"/>
<circle cx="399.3" cy="310.72" r="1.4" fill="#8c84d4"/>
<path d="M280.94,221.46 L283.97,241.49 L290.04,259.3 L302.18,278.22 L338.6,298.03 L399.3,311.06" stroke="#8c84d4" stroke-width="0.9" fill="none" opacity="0.8"/>
<circle cx="280.94" cy="221.46" r="1.4" fill="#8c84d4"/>
<circle cx="283.97" cy="241.49" r="1.4" fill="#8c84d4"/>
<circle cx="290.04" cy="259.3" r="1.4" fill="#8c84d4"/>
<circle cx="302.18" cy="278.22" r="1.4" fill="#8c84d4"/>
<circle cx="338.6" cy="298.03" r="1.4" fill="#8c84d4"/>
<circle cx="399.3" cy="311.06" r="1.4" fill="#8c84d4"/>
<path d="M280.94,210.78 L283.97,220.35 L290.04,238.16 L302.18,251.62 L338.6,268.09 L399.3,281.34" stroke="#f6a466" stroke-width="0.9" fill="none" opacity="0.8"/>
<rect x="279.63" y="209.48" width="2.6" height="2.6" fill="#f6a466"/>
<rect x="282.67" y="219.05" width="2.6" height="2.6" fill="#f6a466"/>
<rect x="288.74" y="236.85" width="2.6" height="2.6" fill="#f6a466"/>
<rect x="300.88" y="250.32" width="2.6" height="2.6" fill="#f6a466"/>
<rect x="337.3" y="266.79" width="2.6" height="2.6" fill="#f6a466"/>
<rect x="398" y="280.04" width="2.6" height="2.6" fill="#f6a466"/>
<path d="M280.94,215.89 L283.97,225.91 L290.04,243.72 L302.18,257.97 L338.6,273.99 L399.3,288.13" stroke="#f6a466" stroke-width="0.9" fill="none" opacity="0.8"/>
<rect x="279.63" y="214.59" width="2.6" height="2.6" fill="#f6a466"/>
<rect x="282.67" y="224.61" width="2.6" height="2.6" fill="#f6a466"/>
<rect x="288.74" y="242.42" width="2.6" height="2.6" fill="#f6a466"/>
<rect x="300.88" y="256.67" width="2.6" height="2.6" fill="#f6a466"/>
<rect x="337.3" y="272.69" width="2.6" height="2.6" fill="#f6a466"/>
<rect x="398" y="286.83" width="2.6" height="2.6" fill="#f6a466"/>
<path d="M280.94,218.12 L283.97,229.25 L290.04,247.06 L302.18,261.31 L338.6,276.55 L399.3,289.8" stroke="#f6a466" stroke-width="0.9" fill="none" opacity="0.8"/>
<rect x="279.63" y="216.82" width="2.6" height="2.6" fill="#f6a466"/>
<rect x="282.67" y="227.95" width="2.6" height="2.6" fill="#f6a466"/>
<rect x="288.74" y="245.76" width="2.6" height="2.6" fill="#f6a466"/>
<rect x="300.88" y="260.01" width="2.6" height="2.6" fill="#f6a466"/>
<rect x="337.3" y="275.25" width="2.6" height="2.6" fill="#f6a466"/>
<rect x="398" y="288.5" width="2.6" height="2.6" fill="#f6a466"/>
<path d="M280.94,219.23 L283.97,232.59 L290.04,248.17 L302.18,263.75 L338.6,279.11 L399.3,291.47" stroke="#2fa89c" stroke-width="0.9" fill="none" opacity="0.8"/>
<path d="M280.94,217.63 L282.44,220.33 L279.44,220.33 Z" fill="#2fa89c"/>
<path d="M283.97,230.99 L285.47,233.69 L282.47,233.69 Z" fill="#2fa89c"/>
<path d="M290.04,246.57 L291.54,249.27 L288.54,249.27 Z" fill="#2fa89c"/>
<path d="M302.18,262.15 L303.68,264.85 L300.68,264.85 Z" fill="#2fa89c"/>
<path d="M338.6,277.51 L340.1,280.21 L337.1,280.21 Z" fill="#2fa89c"/>
<path d="M399.3,289.87 L400.8,292.57 L397.8,292.57 Z" fill="#2fa89c"/>
<path d="M280.94,222.57 L283.97,234.82 L290.04,250.4 L302.18,265.2 L338.6,280.45 L399.3,292.69" stroke="#2fa89c" stroke-width="0.9" fill="none" opacity="0.8"/>
<path d="M280.94,220.97 L282.44,223.67 L279.44,223.67 Z" fill="#2fa89c"/>
<path d="M283.97,233.22 L285.47,235.92 L282.47,235.92 Z" fill="#2fa89c"/>
<path d="M290.04,248.8 L291.54,251.5 L288.54,251.5 Z" fill="#2fa89c"/>
<path d="M302.18,263.6 L303.68,266.3 L300.68,266.3 Z" fill="#2fa89c"/>
<path d="M338.6,278.85 L340.1,281.55 L337.1,281.55 Z" fill="#2fa89c"/>
<path d="M399.3,291.09 L400.8,293.79 L397.8,293.79 Z" fill="#2fa89c"/>
<path d="M280.94,224.8 L283.97,237.04 L290.04,252.62 L302.18,265.98 L338.6,280.78 L399.3,293.25" stroke="#2fa89c" stroke-width="0.9" fill="none" opacity="0.8"/>
<path d="M280.94,223.2 L282.44,225.9 L279.44,225.9 Z" fill="#2fa89c"/>
<path d="M283.97,235.44 L285.47,238.14 L282.47,238.14 Z" fill="#2fa89c"/>
<path d="M290.04,251.02 L291.54,253.72 L288.54,253.72 Z" fill="#2fa89c"/>
<path d="M302.18,264.38 L303.68,267.08 L300.68,267.08 Z" fill="#2fa89c"/>
<path d="M338.6,279.18 L340.1,281.88 L337.1,281.88 Z" fill="#2fa89c"/>
<path d="M399.3,291.65 L400.8,294.35 L397.8,294.35 Z" fill="#2fa89c"/>
<rect x="271.8" y="188.5" width="133.6" height="132.8" fill="none" stroke="#383838" stroke-width="1.25"/>
<path d="M277.9,321.3 V318.3 M290.04,321.3 V319.5 M302.18,321.3 V318.3 M314.32,321.3 V319.5 M326.46,321.3 V318.3 M338.6,321.3 V319.5 M350.74,321.3 V318.3 M362.88,321.3 V319.5 M375.02,321.3 V318.3 M387.16,321.3 V319.5 M399.3,321.3 V318.3 M271.8,321.63 H273.6 M271.8,310.5 H274.8 M271.8,299.37 H273.6 M271.8,288.24 H274.8 M271.8,277.11 H273.6 M271.8,265.98 H274.8 M271.8,254.85 H273.6 M271.8,243.72 H274.8 M271.8,232.59 H273.6 M271.8,221.46 H274.8 M271.8,210.33 H273.6 M271.8,199.2 H274.8 M271.8,188.07 H273.6" stroke="#383838" stroke-width="0.8" fill="none"/>
<text x="277.9" y="331.4" font-size="8.0" text-anchor="middle" font-weight="normal" fill="#000" >0</text>
<text x="302.18" y="331.4" font-size="8.0" text-anchor="middle" font-weight="normal" fill="#000" >2</text>
<text x="326.46" y="331.4" font-size="8.0" text-anchor="middle" font-weight="normal" fill="#000" >4</text>
<text x="350.74" y="331.4" font-size="8.0" text-anchor="middle" font-weight="normal" fill="#000" >6</text>
<text x="375.02" y="331.4" font-size="8.0" text-anchor="middle" font-weight="normal" fill="#000" >8</text>
<text x="399.3" y="331.4" font-size="8.0" text-anchor="middle" font-weight="normal" fill="#000" >10</text>
<text x="268.6" y="313.2" font-size="8.0" text-anchor="end" font-weight="normal" fill="#000" >12</text>
<text x="268.6" y="290.94" font-size="8.0" text-anchor="end" font-weight="normal" fill="#000" >14</text>
<text x="268.6" y="268.68" font-size="8.0" text-anchor="end" font-weight="normal" fill="#000" >16</text>
<text x="268.6" y="246.42" font-size="8.0" text-anchor="end" font-weight="normal" fill="#000" >18</text>
<text x="268.6" y="224.16" font-size="8.0" text-anchor="end" font-weight="normal" fill="#000" >20</text>
<text x="268.6" y="201.9" font-size="8.0" text-anchor="end" font-weight="normal" fill="#000" >22</text>
<text x="348.6" y="206.1" font-size="8.1" text-anchor="start" font-weight="normal" fill="#000" >Static strain</text>
<path d="M347.9,213.2 H367.4" stroke="#8c84d4" stroke-width="0.9" opacity="0.6"/>
<circle cx="357.6" cy="213.2" r="1.4" fill="#8c84d4"/>
<text x="369" y="216" font-size="8.0" text-anchor="start" font-weight="normal" fill="#000" >0 %</text>
<path d="M347.9,223.1 H367.4" stroke="#f6a466" stroke-width="0.9" opacity="0.6"/>
<rect x="356.3" y="221.8" width="2.6" height="2.6" fill="#f6a466"/>
<text x="369" y="225.9" font-size="8.0" text-anchor="start" font-weight="normal" fill="#000" >20 %</text>
<path d="M347.9,233 H367.4" stroke="#2fa89c" stroke-width="0.9" opacity="0.6"/>
<path d="M357.6,231.4 L359.1,234.1 L356.1,234.1 Z" fill="#2fa89c"/>
<text x="369" y="235.8" font-size="8.0" text-anchor="start" font-weight="normal" fill="#000" >30 %</text>
<text x="431" y="189.9" font-size="8.0" text-anchor="middle" font-weight="normal" fill="#000" letter-spacing="0.3">(f)</text>
<text x="0" y="0" font-size="8.1" text-anchor="middle" fill="#000" transform="translate(442,254.7) rotate(-90)">Max contrast value (<tspan font-style="italic" font-weight="bold">ΔE*</tspan>)</text>
<text x="491.6" y="342.5" font-size="8.4" text-anchor="middle" font-weight="normal" fill="#000" >Static strain (%)</text>
<rect x="465.2" y="243.7" width="15.8" height="77.6" fill="#b9b6e0"/>
<rect x="483.8" y="252.62" width="15.8" height="68.68" fill="#f9caa6"/>
<rect x="502.5" y="264.44" width="15.8" height="56.86" fill="#a3d6d0"/>
<circle cx="473.1" cy="211.14" r="1.85" fill="#4b46ab"/>
<circle cx="473.1" cy="255.3" r="1.85" fill="#4b46ab"/>
<circle cx="473.1" cy="266" r="1.85" fill="#4b46ab"/>
<rect x="490.2" y="242.87" width="3" height="3" fill="#f0842e"/>
<rect x="490.2" y="253.57" width="3" height="3" fill="#f0842e"/>
<rect x="490.2" y="257.81" width="3" height="3" fill="#f0842e"/>
<path d="M510.4,256.66 L512.5,260.46 L508.3,260.46 Z" fill="#1b8c87"/>
<path d="M510.4,260.46 L512.5,264.26 L508.3,264.26 Z" fill="#1b8c87"/>
<path d="M510.4,268.93 L512.5,272.73 L508.3,272.73 Z" fill="#1b8c87"/>
<rect x="458.4" y="188.5" width="66.6" height="132.8" fill="none" stroke="#383838" stroke-width="1.25"/>
<path d="M458.4,310.6 H461.4 M458.4,299.45 H460.2 M458.4,288.3 H461.4 M458.4,277.15 H460.2 M458.4,266 H461.4 M458.4,254.85 H460.2 M458.4,243.7 H461.4 M458.4,232.55 H460.2 M458.4,221.4 H461.4 M458.4,210.25 H460.2 M458.4,199.1 H461.4" stroke="#383838" stroke-width="0.8" fill="none"/>
<text x="472.5" y="331.4" font-size="8.0" text-anchor="middle" font-weight="normal" fill="#000" >0</text>
<text x="491.5" y="331.4" font-size="8.0" text-anchor="middle" font-weight="normal" fill="#000" >20</text>
<text x="510.4" y="331.4" font-size="8.0" text-anchor="middle" font-weight="normal" fill="#000" >30</text>
<text x="455" y="313.3" font-size="8.0" text-anchor="end" font-weight="normal" fill="#000" >18</text>
<text x="455" y="291" font-size="8.0" text-anchor="end" font-weight="normal" fill="#000" >19</text>
<text x="455" y="268.7" font-size="8.0" text-anchor="end" font-weight="normal" fill="#000" >20</text>
<text x="455" y="246.4" font-size="8.0" text-anchor="end" font-weight="normal" fill="#000" >21</text>
<text x="455" y="224.1" font-size="8.0" text-anchor="end" font-weight="normal" fill="#000" >22</text>
<text x="455" y="201.8" font-size="8.0" text-anchor="end" font-weight="normal" fill="#000" >23</text>
</svg></body></html>
